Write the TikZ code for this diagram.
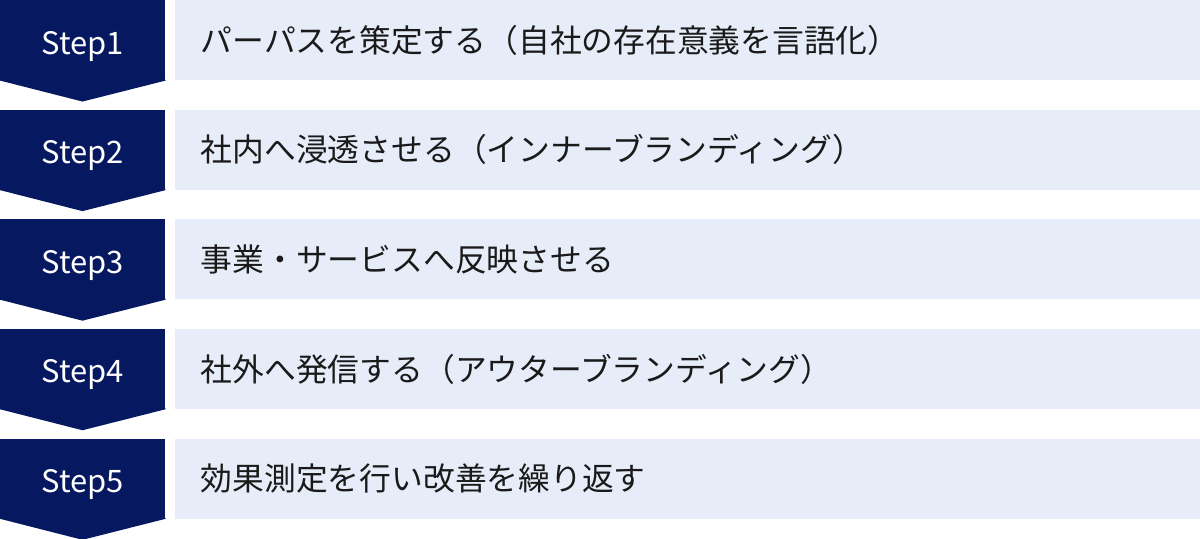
\documentclass[tikz,border=0pt]{standalone}
\usepackage{fontspec}
\setmainfont{Noto Sans CJK JP}
\usetikzlibrary{positioning}
\definecolor{stepnavy}{RGB}{5,24,96}
\definecolor{steplight}{RGB}{230,236,248}
\definecolor{steptext}{RGB}{26,26,26}

\begin{document}
\begin{tikzpicture}
    	\tikzstyle{stephead} = 
    	[fill = stepnavy,
    	text = white,
    	minimum width = 4.125cm,
    	minimum height = 2cm,
    	inner sep = 0pt,
    	text height = 0.69cm,
    	text depth = 0pt,
    	font = \fontsize{22}{26}\selectfont,
    	]
    	\tikzstyle{steptip} = 
    	[fill = stepnavy]
    	\tikzstyle{stepbar} = 
    	[fill = steplight,
    	text = steptext,
    	minimum width = 25.65cm,
    	minimum height = 2cm,
    	inner xsep = 0.65cm,
    	inner ysep = 0pt,
    	text width = 24.35cm,
    	align = left,
    	font = \fontsize{22.6}{27}\selectfont,
    	]

    	\useasboundingbox (0,0) rectangle (30,-13.45);

    	\node[stephead, anchor = north west] (s1) at (0,0) {Step1};
    	\node[stephead, below = 0.725cm of s1] (s2) {Step2};
    	\node[stephead, below = 0.725cm of s2] (s3) {Step3};
    	\node[stephead, below = 0.725cm of s3] (s4) {Step4};
    	\node[stephead, below = 0.725cm of s4] (s5) {Step5};

    	\node[stepbar, right = 0.225cm of s1] (b1)
    		{パーパスを策定する（自社の存在意義を言語化）};
    	\node[stepbar, right = 0.225cm of s2] (b2)
    		{社内へ浸透させる（インナーブランディング）};
    	\node[stepbar, right = 0.225cm of s3] (b3)
    		{事業・サービスへ反映させる};
    	\node[stepbar, right = 0.225cm of s4] (b4)
    		{社外へ発信する（アウターブランディング）};
    	\node[stepbar, right = 0.225cm of s5] (b5)
    		{効果測定を行い改善を繰り返す};

    	\fill[steptip] ([yshift=0.02cm]s1.south west) -- (s1.south west) -- ++(2.0625,-0.525) -- (s1.south east) -- ([yshift=0.02cm]s1.south east) -- cycle;
    	\fill[steptip] ([yshift=0.02cm]s2.south west) -- (s2.south west) -- ++(2.0625,-0.525) -- (s2.south east) -- ([yshift=0.02cm]s2.south east) -- cycle;
    	\fill[steptip] ([yshift=0.02cm]s3.south west) -- (s3.south west) -- ++(2.0625,-0.525) -- (s3.south east) -- ([yshift=0.02cm]s3.south east) -- cycle;
    	\fill[steptip] ([yshift=0.02cm]s4.south west) -- (s4.south west) -- ++(2.0625,-0.525) -- (s4.south east) -- ([yshift=0.02cm]s4.south east) -- cycle;
    	\fill[steptip] ([yshift=0.02cm]s5.south west) -- (s5.south west) -- ++(2.0625,-0.525) -- (s5.south east) -- ([yshift=0.02cm]s5.south east) -- cycle;
\end{tikzpicture}
\end{document}
